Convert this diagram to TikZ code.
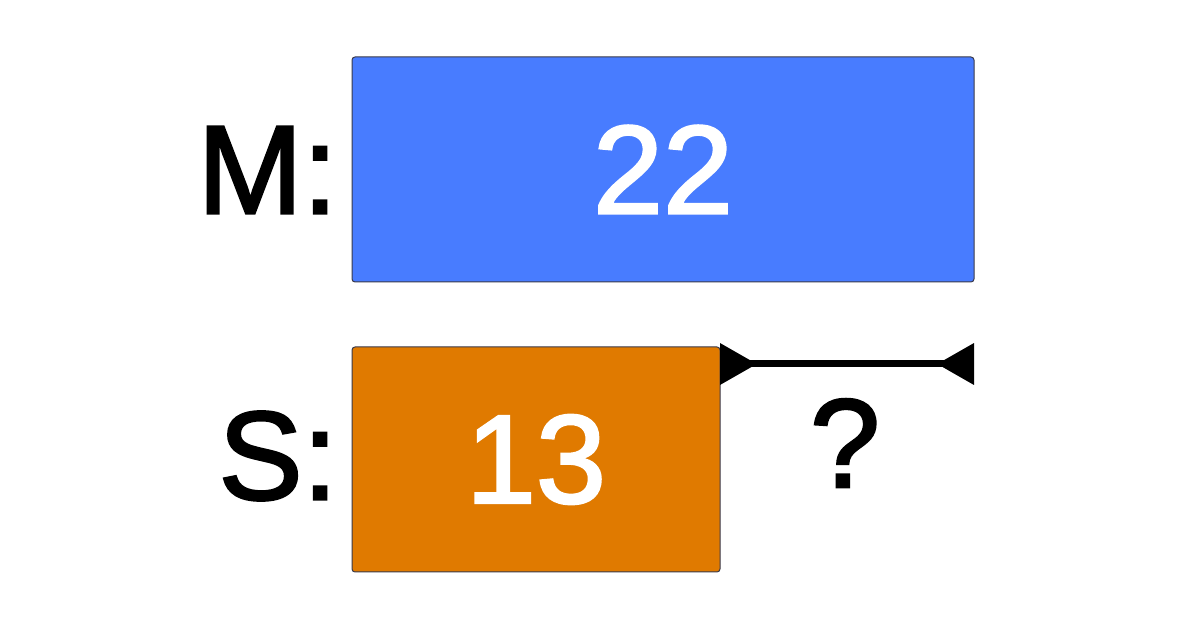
\documentclass[tikz,border=0pt]{standalone}
\usepackage{fontspec}
\setmainfont{Liberation Sans}[UprightFeatures={FakeBold=2}]
\usetikzlibrary{arrows.meta}
\definecolor{mblue}{HTML}{487CFF}
\definecolor{sorange}{HTML}{E07A00}
\definecolor{edge}{HTML}{3A3A4A}
\begin{document}
\begin{tikzpicture}[x=0.5pt,y=-0.5pt,
    bar/.style={draw=edge, line width=0.5pt, rounded corners=1.5pt,
      text=white, font=\fontsize{63}{63}\selectfont},
    lbl/.style={inner sep=0pt, font=\fontsize{63}{63}\selectfont},
    gap/.style={line width=3.5pt,
      {Triangle[reversed,width=20pt,length=18.5pt]}-{Triangle[reversed,width=20pt,length=18.5pt]}}]
  \useasboundingbox (0,0) rectangle (1200,630);
  \node (m) at (663,169.5) [bar, fill=mblue, minimum width=311pt,
    minimum height=112.5pt] {22}; \node (s) at (536,459.5) [bar,
    fill=sorange, minimum width=184pt, minimum height=112.5pt] {13};
  \node (ml) at (338,170) [lbl, anchor=east] {M:}; \node (sl) at
    (338,456) [lbl, anchor=east] {S:}; \node (q) at (845,443) [lbl] {?};
  \coordinate (gl) at (720,364); \coordinate (gr) at (974,364);
  \draw[gap] (gl) -- (gr);
\end{tikzpicture}
\end{document}
